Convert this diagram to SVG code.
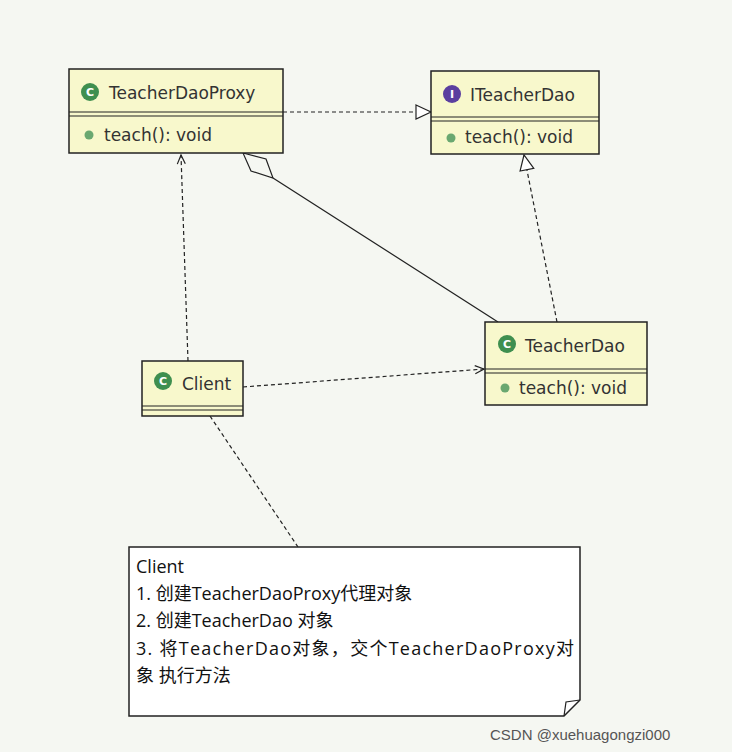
<svg xmlns="http://www.w3.org/2000/svg" width="732" height="752" viewBox="0 0 732 752">
<style>
.box{fill:#f8f8cc;stroke:#222;stroke-width:1.5}
.ln{stroke:#222;stroke-width:1.2;fill:none}
.dash{stroke:#222;stroke-width:1.2;fill:none;stroke-dasharray:4 3}
.t{font-family:"DejaVu Sans","Noto Sans CJK SC",sans-serif;font-size:17px;fill:#333}
.n{font-family:"Open Sans","Noto Sans CJK SC",sans-serif;font-size:18px;fill:#111}
.ic{font-family:"DejaVu Sans",sans-serif;font-size:11px;font-weight:bold;fill:#fff}
</style>
<defs>
<marker id="tri" markerWidth="18" markerHeight="18" refX="16" refY="8" orient="auto" markerUnits="userSpaceOnUse"><path d="M1,1 L16,8 L1,15 Z" fill="#fff" stroke="#222" stroke-width="1.2"/></marker>
<marker id="open" markerWidth="12" markerHeight="12" refX="10" refY="5" orient="auto" markerUnits="userSpaceOnUse"><path d="M1,1 L10,5 L1,9" fill="none" stroke="#222" stroke-width="1.2"/></marker>
</defs>
<rect width="732" height="752" fill="#f5f7f2"/>
<g id="connectors">
<line class="dash" x1="283" y1="112" x2="431" y2="112" marker-end="url(#tri)"/>
<path class="ln" d="M243,153 L266,159 L273,178 L251,171 Z" fill="#fff"/>
<line class="ln" x1="273" y1="178" x2="498" y2="322"/>
<line class="dash" x1="557" y1="322" x2="524" y2="155" marker-end="url(#tri)"/>
<line class="dash" x1="188" y1="361" x2="181" y2="155" marker-end="url(#open)"/>
<line class="dash" x1="243" y1="387" x2="484" y2="369" marker-end="url(#open)"/>
<line class="dash" x1="210" y1="416" x2="298" y2="547"/>
</g>
<g id="TeacherDaoProxy">
<rect class="box" x="69" y="69" width="214" height="84"/>
<line class="ln" x1="69" y1="112" x2="283" y2="112"/><line class="ln" x1="69" y1="116" x2="283" y2="116"/>
<circle cx="90" cy="92" r="9" fill="#3f8f4f"/><text class="ic" x="90" y="96" text-anchor="middle">C</text>
<text class="t" x="109" y="99">TeacherDaoProxy</text>
<circle cx="89" cy="135" r="4.5" fill="#6aa870"/>
<text class="t" x="104" y="141">teach(): void</text>
</g>
<g id="ITeacherDao">
<rect class="box" x="431" y="71" width="168" height="83"/>
<line class="ln" x1="431" y1="117" x2="599" y2="117"/><line class="ln" x1="431" y1="121" x2="599" y2="121"/>
<circle cx="452" cy="94" r="9" fill="#5b3f9f"/><text class="ic" x="452" y="98" text-anchor="middle">I</text>
<text class="t" x="470" y="101">ITeacherDao</text>
<circle cx="451" cy="138" r="4.5" fill="#6aa870"/>
<text class="t" x="465" y="143">teach(): void</text>
</g>
<g id="TeacherDao">
<rect class="box" x="485" y="322" width="162" height="83"/>
<line class="ln" x1="485" y1="369" x2="647" y2="369"/><line class="ln" x1="485" y1="373" x2="647" y2="373"/>
<circle cx="507" cy="344" r="9" fill="#3f8f4f"/><text class="ic" x="507" y="348" text-anchor="middle">C</text>
<text class="t" x="525" y="352">TeacherDao</text>
<circle cx="505" cy="388" r="4.5" fill="#6aa870"/>
<text class="t" x="519" y="394">teach(): void</text>
</g>
<g id="Client">
<rect class="box" x="142" y="361" width="101" height="55"/>
<line class="ln" x1="142" y1="406" x2="243" y2="406"/><line class="ln" x1="142" y1="410" x2="243" y2="410"/>
<circle cx="163" cy="381" r="9" fill="#3f8f4f"/><text class="ic" x="163" y="385" text-anchor="middle">C</text>
<text class="t" x="182" y="390">Client</text>
</g>
<g id="note">
<path d="M129,547 L580,547 L580,700 L564,716 L129,716 Z" fill="#fff" stroke="#222" stroke-width="1.5"/>
<path class="ln" d="M580,700 L566,702 L564,716"/>
<text class="n" x="136" y="573">Client</text>
<text class="n" x="136" y="600">1. 创建TeacherDaoProxy代理对象</text>
<text class="n" x="136" y="627">2. 创建TeacherDao 对象</text>
<text class="n" x="136" y="655" textLength="438" lengthAdjust="spacing">3. 将TeacherDao对象，交个TeacherDaoProxy对</text>
<text class="n" x="136" y="682">象 执行方法</text>
</g>
<text x="490" y="740" font-family="Liberation Sans,sans-serif" font-size="15" fill="#555">CSDN @xuehuagongzi000</text>
</svg>
